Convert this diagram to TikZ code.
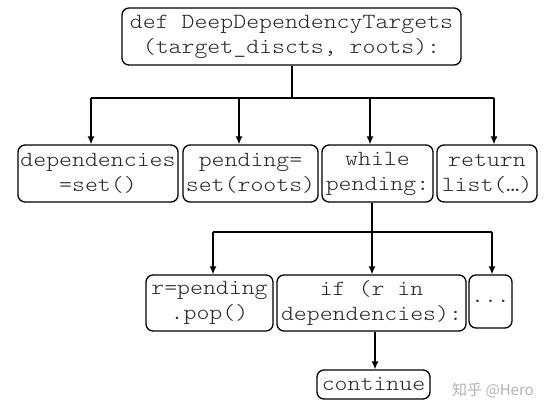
\documentclass[tikz,border=0pt]{standalone}
\usepackage{fontspec}
\setmonofont[FakeStretch=1.14]{Latin Modern Mono Light}
\newfontfamily\cjk{Noto Sans CJK SC}
\usetikzlibrary{arrows.meta}
\begin{document}
\begin{tikzpicture}[x=1pt,y=-1pt,
  box/.style={draw, rounded corners=7pt, line width=1.3pt, inner sep=0pt, align=center,
    font=\ttfamily\fontsize{21.6}{25}\selectfont, text=black!85},
  arr/.style={-{Latex[length=8pt,width=7pt]}, line width=1.3pt},
  ln/.style={line width=1.3pt}]
\useasboundingbox (0,0) rectangle (555,415);
% top
\node[box, minimum width=339pt, minimum height=57pt] (top) at (291.5,36.5) {def DeepDependencyTargets\\(target\_discts, roots):};
% row 2
\node[box, minimum width=160pt, minimum height=57pt] (dep) at (98,173.5) {dependencies\\=set()};
\node[box, minimum width=135pt, minimum height=57pt] (pend) at (250.5,173.5) {pending=\\set(roots)};
\node[box, minimum width=111pt, minimum height=57pt] (while) at (377.5,173.5) {while\\pending:};
\node[box, minimum width=100pt, minimum height=57pt] (ret) at (487,173.5) {return\\list(…)};
% row 3
\node[box, minimum width=127pt, minimum height=56pt] (rp) at (209.5,303) {r=pending\\.pop()};
\node[box, minimum width=189pt, minimum height=56pt] (if) at (371.5,303) {if (r in\\dependencies):};
\node[box, minimum width=43pt, minimum height=53pt] (dots) at (490.5,301.5) {...};
% row 4
\node[box, minimum width=113pt, minimum height=29pt] (cont) at (373.5,384.5) {continue};
% watermark
\node[text=black!30, font=\cjk\fontsize{15}{18}\selectfont, inner sep=0pt] (wm) at (493,390) {知乎 @Hero};
% bus 1
\coordinate (b1) at (292,98);
\coordinate (b1a) at (91,98);
\coordinate (b1b) at (239,98);
\coordinate (b1c) at (370,98);
\coordinate (b1d) at (494,98);
\draw[ln] (top.south -| b1) -- (b1);
\draw[ln] (b1a) -- (b1d);
\draw[arr] (b1a) -- (b1a |- dep.north);
\draw[arr] (b1b) -- (b1b |- pend.north);
\draw[arr] (b1c) -- (b1c |- while.north);
\draw[arr] (b1d) -- (b1d |- ret.north);
% bus 2
\coordinate (b2) at (372,232);
\coordinate (b2a) at (213,232);
\coordinate (b2d) at (492,232);
\draw[ln] (while.south -| b2) -- (b2);
\draw[ln] (b2a) -- (b2d);
\draw[arr] (b2a) -- (b2a |- rp.north);
\draw[arr] (b2) -- (b2 |- if.north);
\draw[arr] (b2d) -- (b2d |- dots.north);
% if -> continue
\coordinate (c1) at (375,0);
\draw[arr] (if.south -| c1) -- (cont.north -| c1);
\end{tikzpicture}
\end{document}
